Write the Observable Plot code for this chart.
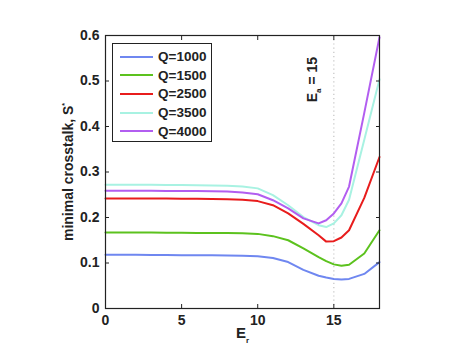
<!DOCTYPE html>
<html><head><meta charset="utf-8">
<script src="https://cdn.jsdelivr.net/npm/d3@7"></script>
<script src="https://cdn.jsdelivr.net/npm/@observablehq/plot@0.6"></script>
<style>
body{margin:0;background:#fff;}
#wrap{position:relative;width:474px;height:351px;font-family:"Liberation Sans",Arial,sans-serif;}
#legend{position:absolute;left:112px;top:43px;width:100px;height:99px;border:1.3px solid #222;background:#fff;box-sizing:border-box;}
.row{position:absolute;left:0;height:18px;display:flex;align-items:center;font-size:13.5px;font-weight:bold;color:#222;}
.sw{display:inline-block;width:33px;height:2px;margin-left:7px;margin-right:5px;}
</style>
</head><body>
<div id="wrap"><div id="chart"></div><div id="legend"></div></div>
<script>
const E = [0,1,2,3,4,5,6,7,8,9,10,11,12,13,14,14.5,15,15.5,16,17,18];
const q1000 = [0.118,0.118,0.118,0.1178,0.1175,0.1172,0.117,0.1168,0.1165,0.116,0.115,0.111,0.102,0.085,0.072,0.068,0.065,0.064,0.065,0.076,0.102];
const q1500 = [0.167,0.167,0.167,0.1668,0.1666,0.1664,0.1662,0.166,0.1658,0.1655,0.164,0.159,0.150,0.132,0.113,0.104,0.097,0.094,0.096,0.121,0.172];
const q2500 = [0.242,0.242,0.242,0.2418,0.2415,0.2412,0.241,0.2405,0.240,0.239,0.236,0.227,0.209,0.186,0.161,0.147,0.148,0.156,0.172,0.243,0.333];
const q3500 = [0.272,0.272,0.272,0.2718,0.2715,0.2712,0.271,0.2705,0.270,0.268,0.264,0.249,0.227,0.201,0.183,0.179,0.187,0.205,0.239,0.371,0.504];
const q4000 = [0.259,0.259,0.259,0.2588,0.2585,0.2582,0.258,0.2575,0.257,0.255,0.251,0.238,0.220,0.198,0.187,0.194,0.209,0.231,0.268,0.430,0.596];
const seriesNames = ["Q=1000","Q=1500","Q=2500","Q=3500","Q=4000"];
const seriesColors = ["#6f87f0","#5cc21e","#e81c1c","#a8f2e2","#b25ef0"];
const seriesValues = [q1000,q1500,q2500,q3500,q4000];
const xTicks = [0,5,10,15];
const yTicks = [0,0.1,0.2,0.3,0.4,0.5,0.6];
const annotX = [15];
const annotText = ["Ea = 15"];

const rows = [];
seriesNames.forEach((name,i)=>E.forEach((e,j)=>rows.push({E:e, v:seriesValues[i][j], Q:name})));

const font = '"Liberation Sans",Arial,sans-serif';
const chart = Plot.plot({
  width:474, height:351,
  marginLeft:105, marginRight:95, marginTop:35, marginBottom:43,
  x:{domain:[0,18]}, y:{domain:[0,0.6]},
  color:{domain:seriesNames, range:seriesColors},
  style:{fontFamily:font, fontSize:"14px", fontWeight:"bold", color:"#222", background:"#fff"},
  marks:[
    Plot.ruleX(annotX,{stroke:"#c4c4c4", strokeDasharray:"1.2,3", strokeWidth:1.2}),
    Plot.line(rows,{x:"E", y:"v", z:"Q", stroke:"Q", strokeWidth:2, curve:"linear"}),
    Plot.frame({stroke:"#222", strokeWidth:1.2}),
    Plot.axisX({ticks:xTicks, tickSize:0, tickPadding:7, tickFormat:"d", label:null}),
    Plot.axisX({ticks:xTicks, tickSize:-4, tickFormat:()=>"", label:null, stroke:"#222"}),
    Plot.axisX({anchor:"top", ticks:xTicks, tickSize:-4, tickFormat:()=>"", label:null, stroke:"#222"}),
    Plot.axisY({ticks:yTicks, tickSize:0, tickPadding:6, tickFormat:d=>d===0?"0":d.toFixed(1), label:null}),
    Plot.axisY({ticks:yTicks, tickSize:-4, tickFormat:()=>"", label:null, stroke:"#222"}),
    Plot.axisY({anchor:"right", ticks:yTicks, tickSize:-4, tickFormat:()=>"", label:null, stroke:"#222"}),
    Plot.text(annotText,{x:annotX, y:[0.503], text:d=>d, rotate:-90, dx:-21, textAnchor:"middle", fill:"#222", fontSize:14, fontWeight:"bold"}),
    Plot.text(["minimal crosstalk, S*"],{frameAnchor:"left", rotate:-90, dx:-37, textAnchor:"middle", fill:"#222", fontSize:14, fontWeight:"bold"}),
    Plot.text(["Er"],{frameAnchor:"bottom", dy:29, textAnchor:"middle", fill:"#222", fontSize:15, fontWeight:"bold"})
  ]
});
document.getElementById("chart").appendChild(chart);

// subscripts / superscripts
d3.select(chart).selectAll("text").each(function(){
  const t = this.textContent;
  const s = d3.select(this);
  if (t === "Ea = 15") {
    s.text(null);
    s.append("tspan").text("E");
    s.append("tspan").attr("dy",4).attr("font-size",8).text("a");
    s.append("tspan").attr("dy",-4).text(" = 15");
  } else if (t === "minimal crosstalk, S*") {
    s.text(null);
    s.append("tspan").text("minimal crosstalk, S");
    s.append("tspan").attr("dy",-6).attr("font-size",7).text("*");
  } else if (t === "Er") {
    s.text(null);
    s.append("tspan").text("E");
    s.append("tspan").attr("dy",5).attr("font-size",8).text("r");
  }
});

const leg = document.getElementById("legend");
seriesNames.forEach((name,i)=>{
  const r = document.createElement("div");
  r.className = "row";
  r.style.top = (3.5 + i*18.7) + "px";
  const sw = document.createElement("span");
  sw.className = "sw"; sw.style.background = seriesColors[i];
  r.appendChild(sw);
  r.appendChild(document.createTextNode(name));
  leg.appendChild(r);
});
</script>
</body></html>
